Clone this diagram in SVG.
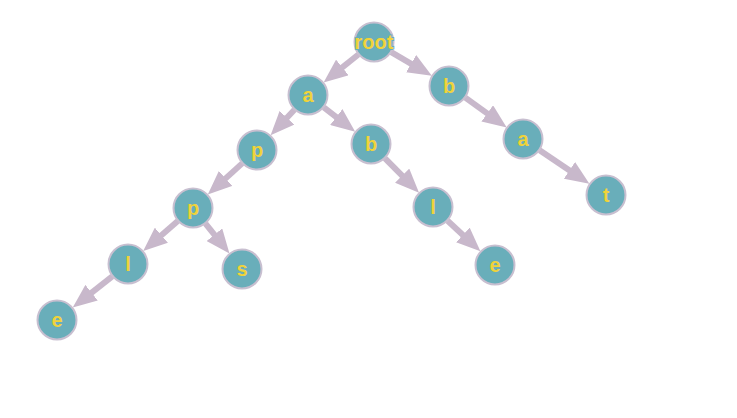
<svg xmlns="http://www.w3.org/2000/svg" width="737" height="418" viewBox="0 0 737 418">
<style>
.edge{stroke:#c8b8cb;stroke-width:6;fill:none;marker-end:url(#arr)}
.node circle{fill:#69aeba;stroke:#c8bfd0;stroke-width:2}
.node text{font-family:"Liberation Sans",Arial,sans-serif;font-weight:bold;font-size:20px;fill:#f0d33a;text-anchor:middle;dominant-baseline:central;stroke:#69aeba;stroke-width:2;paint-order:stroke}
</style>
<defs>
<marker id="arr" markerUnits="userSpaceOnUse" markerWidth="24" markerHeight="20" refX="14" refY="10" orient="auto">
<path d="M0,0 L24,10 L0,20 z" fill="#c8b8cb"/>
</marker>
</defs>
<rect width="737" height="418" fill="#ffffff"/>
<g id="edges">
<line class="edge" x1="358.4" y1="54.5" x2="331.4" y2="76.2"/>
<line class="edge" x1="391.2" y1="52.1" x2="423.2" y2="70.8"/>
<line class="edge" x1="294.4" y1="109.7" x2="277.4" y2="128.0"/>
<line class="edge" x1="323.8" y1="107.3" x2="347.3" y2="125.6"/>
<line class="edge" x1="465.3" y1="97.6" x2="498.6" y2="121.6"/>
<line class="edge" x1="242.2" y1="163.4" x2="215.2" y2="187.9"/>
<line class="edge" x1="385.0" y1="158.3" x2="412.0" y2="185.6"/>
<line class="edge" x1="539.6" y1="150.2" x2="581.1" y2="178.2"/>
<line class="edge" x1="177.8" y1="221.1" x2="150.8" y2="244.4"/>
<line class="edge" x1="205.5" y1="223.6" x2="223.2" y2="245.6"/>
<line class="edge" x1="447.6" y1="220.7" x2="473.1" y2="244.5"/>
<line class="edge" x1="112.3" y1="276.4" x2="80.6" y2="301.4"/>
</g>
<g id="n-root" class="node"><circle cx="374" cy="42" r="19.5"/><text x="374" y="42">root</text></g>
<g id="n-a" class="node"><circle cx="308" cy="95" r="19.5"/><text x="308" y="95">a</text></g>
<g id="n-b" class="node"><circle cx="449" cy="86" r="19.5"/><text x="449" y="86">b</text></g>
<g id="n-p" class="node"><circle cx="257" cy="150" r="19.5"/><text x="257" y="150">p</text></g>
<g id="n-ab" class="node"><circle cx="371" cy="144" r="19.5"/><text x="371" y="144">b</text></g>
<g id="n-ba" class="node"><circle cx="523" cy="139" r="19.5"/><text x="523" y="139">a</text></g>
<g id="n-pp" class="node"><circle cx="193" cy="208" r="19.5"/><text x="193" y="208">p</text></g>
<g id="n-abl" class="node"><circle cx="433" cy="207" r="19.5"/><text x="433" y="207">l</text></g>
<g id="n-bat" class="node"><circle cx="606" cy="195" r="19.5"/><text x="606" y="195">t</text></g>
<g id="n-appl" class="node"><circle cx="128" cy="264" r="19.5"/><text x="128" y="264">l</text></g>
<g id="n-apps" class="node"><circle cx="242" cy="269" r="19.5"/><text x="242" y="269">s</text></g>
<g id="n-able" class="node"><circle cx="495" cy="265" r="19.5"/><text x="495" y="265">e</text></g>
<g id="n-apple" class="node"><circle cx="57" cy="320" r="19.5"/><text x="57" y="320">e</text></g>
</svg>
